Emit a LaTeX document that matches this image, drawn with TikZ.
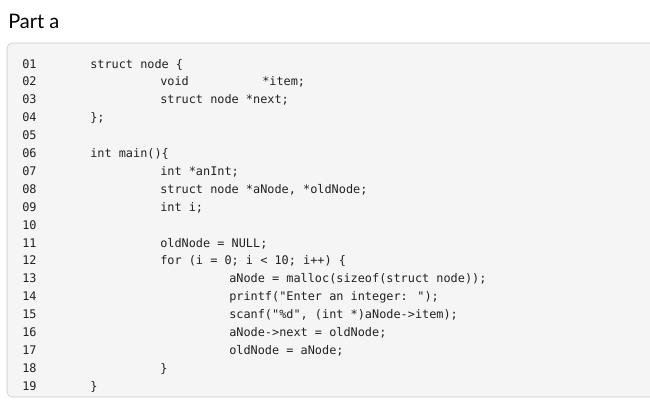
\documentclass[tikz,border=0pt]{standalone}
\usepackage{fontspec}
\setmainfont{Lato}
\newfontfamily\codefont{DejaVu Sans Mono}
\definecolor{boxfill}{HTML}{F5F5F5}
\definecolor{boxline}{HTML}{C8C8C8}
\definecolor{codeink}{HTML}{222222}
\tikzset{
  code/.style={anchor=base west, inner sep=0pt, text=codeink,
    font=\codefont\fontsize{8.9pt}{11pt}\selectfont},
}
\begin{document}
\begin{tikzpicture}[x=0.75pt,y=-0.75pt]
\useasboundingbox (0,0) rectangle (650,404);
% heading and code box
\node[anchor=base west, inner sep=0pt, font=\fontsize{15pt}{18pt}\selectfont] (title) at (8,28) {Part a};
\draw[boxline, fill=boxfill, rounded corners=4pt] (7,43) rectangle (660,397);
% line numbers
\foreach \i in {1,...,19}{
  \node[code] (n\i) at (22,{68+(\i-1)*17.9}) {\ifnum\i<10 0\fi\i};
}
% code lines
\node[code] (l01) at (90,68) {struct node \{};
\node[code] (l02) at (160,85.9) {void};
\node[code] (l02b) at (262,85.9) {*item;};
\node[code] (l03) at (160,103.8) {struct node *next;};
\node[code] (l04) at (90,121.7) {\};};
\node[code] (l06) at (90,157.5) {int main()\{};
\node[code] (l07) at (160,175.4) {int *anInt;};
\node[code] (l08) at (160,193.3) {struct node *aNode, *oldNode;};
\node[code] (l09) at (160,211.2) {int i;};
\node[code] (l11) at (160,247) {oldNode = NULL;};
\node[code] (l12) at (160,264.9) {for (i = 0; i < 10; i++) \{};
\node[code] (l13) at (229,282.8) {aNode = malloc(sizeof(struct node));};
\node[code] (l14) at (229,300.7) {printf("Enter an integer: ");};
\node[code] (l15) at (229,318.6) {scanf("\%d", (int *)aNode->item);};
\node[code] (l16) at (229,336.5) {aNode->next = oldNode;};
\node[code] (l17) at (229,354.4) {oldNode = aNode;};
\node[code] (l18) at (160,372.3) {\}};
\node[code] (l19) at (90,390.2) {\}};
\end{tikzpicture}
\end{document}
